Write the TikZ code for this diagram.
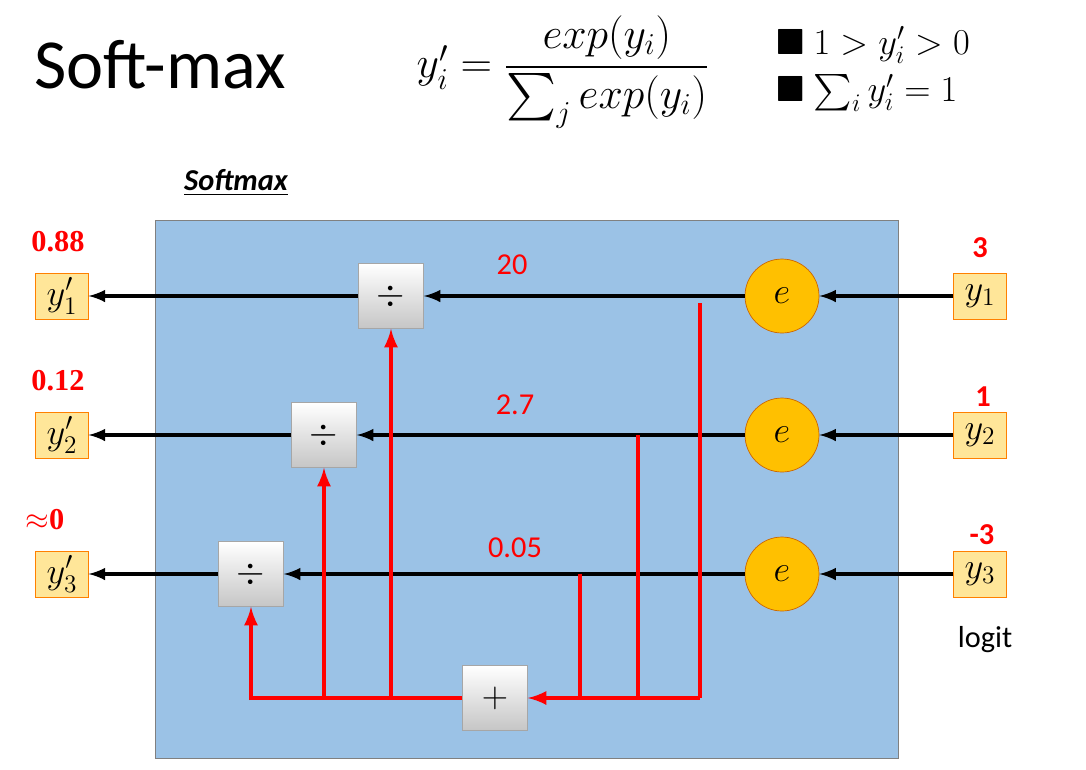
\documentclass[tikz,border=0pt]{standalone}
\usepackage{fontspec}
\usepackage{amsmath,amssymb}
\setmainfont{Liberation Serif}
\newfontfamily\sans{Carlito}
\usetikzlibrary{calc}
\definecolor{panel}{RGB}{155,194,230}
\definecolor{ebody}{RGB}{255,192,0}
\definecolor{ybox}{RGB}{255,230,153}
\definecolor{redtxt}{RGB}{255,0,0}
\tikzset{
  expnode/.style={circle, draw=orange!80!black, fill=ebody, minimum size=1.48cm, font=\huge},
  inbox/.style={draw=orange, fill=ybox, minimum width=1.05cm, minimum height=0.92cm, inner sep=1pt, font=\huge},
  opbox/.style={draw=gray!70, top color=white, bottom color=gray!45, minimum size=1.3cm, font=\huge},
  blk/.style={-latex, line width=2.2pt},
  rd/.style={line width=2.6pt, redtxt},
  num/.style={text=redtxt, font=\sans\Large},
  val/.style={text=redtxt, font=\bfseries\LARGE}
}
\begin{document}
\begin{tikzpicture}[x=0.02cm, y=-0.02cm]
  \useasboundingbox[fill=white] (0,0) rectangle (1086,769);
  % header
  \node at (160,65) {\sans\fontsize{40}{44}\selectfont Soft-max};
  \node at (563,72) {\fontsize{27}{30}\selectfont $y_i' = \dfrac{exp(y_i)}{\sum_j exp(y_i)}$};
  \node[anchor=west] at (770,45) {\huge $\blacksquare$\ $1 > y_i' > 0$};
  \node[anchor=west] at (770,93) {\huge $\blacksquare$\ $\sum_i y_i' = 1$};
  \node at (236,183) {\sans\LARGE\bfseries\itshape \underline{Softmax}};
  % panel
  \draw[gray, fill=panel] (155,220) rectangle (898,758);
  % nodes
  \foreach \i/\y/\dx/\o/\ox in {1/296/391/0.88/58, 2/435/324/0.12/58, 3/574/251/$\approx$0/45} {
    \node[expnode] (e\i) at (782,\y) {$e$};
    \node[inbox] (y\i) at (980,\y) {$y_\i$};
    \node[opbox] (d\i) at (\dx,\y) {$\div$};
    \node[inbox] (o\i) at (62,\y) {$y_\i'$};
    \node[val] at (\ox,\y-54) {\o};
    \draw[blk] (y\i) -- (e\i);
    \draw[blk] (e\i) -- (d\i);
    \draw[blk] (d\i) -- (o\i);
  }
  \node[num, font=\bfseries\sans\LARGE] at (980,248) {3};
  \node[num, font=\bfseries\sans\LARGE] at (983,397) {1};
  \node[num, font=\bfseries\sans\LARGE] at (982,535) {-3};
  \node[font=\sans\LARGE] at (985,640) {logit};
  \node[num, font=\sans\LARGE] at (512,265) {20};
  \node[num, font=\sans\LARGE] at (515,405) {2.7};
  \node[num, font=\sans\LARGE] at (515,548) {0.05};
  % sum
  \node[opbox] (sum) at (495,698) {$+$};
  \coordinate (s1) at (700,698);
  \draw[rd] (700,303) -- (s1);
  \draw[rd] (638,435) -- (638,698);
  \draw[rd] (580,574) -- (580,698);
  \draw[rd, -latex] (s1) -- (sum);
  \draw[rd] (sum) -- (251,698);
  \draw[rd, -latex] (251,700) -- (d3);
  \draw[rd, -latex] (324,698) -- (d2);
  \draw[rd, -latex] (391,698) -- (d1);
\end{tikzpicture}
\end{document}
